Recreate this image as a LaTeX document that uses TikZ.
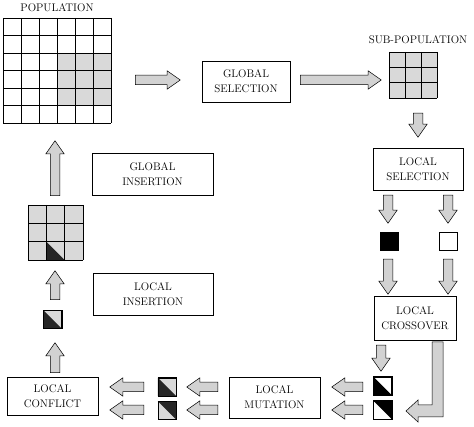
\documentclass[tikz,border=0pt]{standalone}
\usetikzlibrary{shapes.arrows}
\newcommand\trll[2]{\fill[#2] (#1.north west) -- (#1.south west) -- (#1.south east) -- cycle;}
\newcommand\trur[2]{\fill[#2] (#1.north west) -- (#1.north east) -- (#1.south east) -- cycle;}
\newcommand\sqborder[1]{\draw[line width=0.5pt] (#1.north west) rectangle (#1.south east);}
\begin{document}
\begin{tikzpicture}[x=1pt,y=-1pt,
  box/.style={draw, line width=0.7pt, inner sep=0pt, align=center, font=\fontsize{11}{15}\selectfont},
  lbl/.style={inner sep=0pt, font=\fontsize{11}{13}\selectfont},
  fat/.style={single arrow, draw, fill=gray!35, line width=0.5pt, inner xsep=0pt, inner ysep=4.5pt,
    single arrow head extend=4.5pt, single arrow tip angle=70, minimum width=0pt, minimum height=#1, anchor=tail},
  sq/.style={draw, line width=0.5pt, minimum size=18pt, inner sep=0pt},
  cell/.style={fill=gray!30},
  gridline/.style={line width=0.6pt}
]
\useasboundingbox (0,0) rectangle (474,427);

% POPULATION grid
\node[lbl] (poplbl) at (57,8) {POPULATION};
\node[inner sep=0pt, minimum width=108pt, minimum height=105pt] (pop) at (57,70.5) {};
\fill[cell] (57,53) rectangle (111,105.5);
\foreach \i in {0,...,6} \draw[gridline] (3+\i*18,18) -- (3+\i*18,123);
\foreach \j in {0,...,6} \draw[gridline] (3,18+\j*17.5) -- (111,18+\j*17.5);

% SUB-POPULATION grid
\node[lbl] (sublbl) at (418,40) {SUB-POPULATION};
\node[inner sep=0pt, minimum width=48pt, minimum height=46pt] (sub) at (413,75) {};
\fill[cell] (389,52) rectangle (437,98);
\foreach \i in {0,...,3} \draw[gridline] (389+\i*16,52) -- (389+\i*16,98);
\foreach \j in {0,...,3} \draw[gridline] (389,52+\j*15.333) -- (437,52+\j*15.333);

% small grid on the left
\node[inner sep=0pt, minimum width=55pt, minimum height=55pt] (small) at (55.5,232.5) {};
\fill[cell] (28,205) rectangle (83,260);
\fill[black!85] (46.33,241.67) -- (46.33,260) -- (64.67,260) -- cycle;
\foreach \i in {0,...,3} \draw[gridline] (28+\i*18.333,205) -- (28+\i*18.333,260);
\foreach \j in {0,...,3} \draw[gridline] (28,205+\j*18.333) -- (83,205+\j*18.333);

% boxes
\node[box, minimum width=88pt, minimum height=41pt] (gsel) at (246,81.5) {GLOBAL\\SELECTION};
\node[box, minimum width=90pt, minimum height=42pt] (lsel) at (418,169) {LOCAL\\SELECTION};
\node[box, minimum width=82pt, minimum height=44pt] (cross) at (415,318) {LOCAL\\CROSSOVER};
\node[box, minimum width=91pt, minimum height=41pt] (mut) at (274.5,397.5) {LOCAL\\MUTATION};
\node[box, minimum width=91pt, minimum height=38pt] (conf) at (52.5,396) {LOCAL\\CONFLICT};
\node[box, minimum width=121pt, minimum height=42pt] (gins) at (152.5,174) {GLOBAL\\INSERTION};
\node[box, minimum width=120pt, minimum height=42pt] (lins) at (153,294) {LOCAL\\INSERTION};

% individuals
\node[sq, fill=black] (p1) at (389,241) {};
\node[sq, fill=white] (p2) at (448.5,241) {};
\node[sq] (off1) at (382.5,386) {};
\trll{off1}{black}\sqborder{off1}
\node[sq] (off2) at (382.5,410) {};
\trur{off2}{black}\sqborder{off2}
\node[sq, fill=gray!30] (mut1) at (167,387) {};
\trll{mut1}{black!85}\sqborder{mut1}
\node[sq, fill=gray!30] (mut2) at (167,410.5) {};
\trur{mut2}{black!85}\sqborder{mut2}
\node[sq, fill=gray!30] (ins) at (52.5,319.5) {};
\trll{ins}{black!85}\sqborder{ins}

% block arrows
\node[fat=45] (a1) at (135,80) {};
\node[fat=81] (a2) at (300,80) {};
\node[fat=24, rotate=-90] (a3) at (418,113) {};
\node[fat=28, rotate=-90] (a4) at (388,195) {};
\node[fat=28, rotate=-90] (a5) at (448,195) {};
\node[fat=35, rotate=-90] (a6) at (388,259) {};
\node[fat=35, rotate=-90] (a7) at (448,259) {};
\node[fat=26, rotate=-90] (a8) at (381,345) {};
\node[fat=31, rotate=180] (a9) at (363,387) {};
\node[fat=31, rotate=180] (a10) at (363,410) {};
\node[fat=31, rotate=180] (a11) at (218,387) {};
\node[fat=31, rotate=180] (a12) at (218,410) {};
\node[fat=34, rotate=180] (a13) at (144,387) {};
\node[fat=34, rotate=180] (a14) at (144,410) {};
\node[fat=30, rotate=90] (a15) at (55,373) {};
\node[fat=29, rotate=90] (a16) at (55,300) {};
\node[fat=55, rotate=90] (a17) at (55,196) {};

% L-shaped arrow from crossover
\draw[fill=gray!35, line width=0.5pt] (432,342) -- (443,342) -- (443,417) -- (418,417) -- (418,422)
  -- (406,411) -- (418,400) -- (418,405) -- (432,405) -- cycle;
\end{tikzpicture}
\end{document}
